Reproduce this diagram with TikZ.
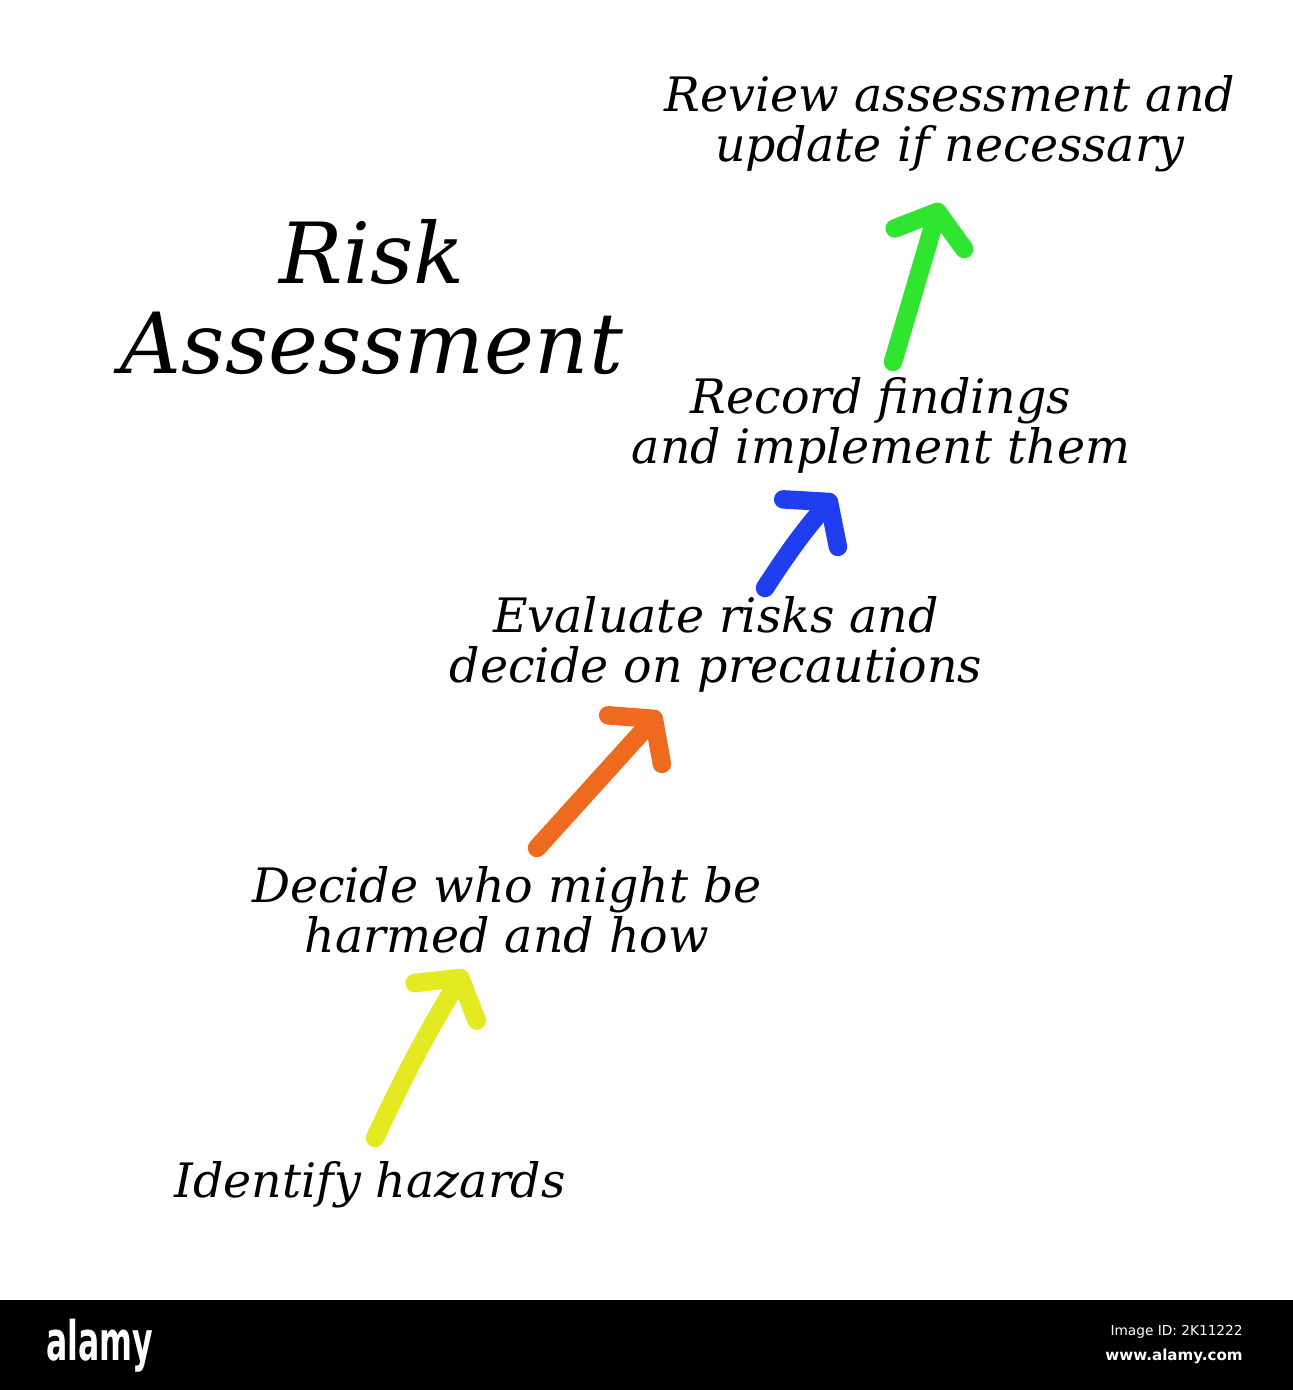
\documentclass[tikz,border=0pt]{standalone}
\usepackage{fontspec}
\setmainfont{DejaVu Serif}
\newfontfamily\wmfont{DejaVu Sans}
\usetikzlibrary{arrows.meta,positioning}
\definecolor{penyellow}{HTML}{E4EA22}
\definecolor{penorange}{HTML}{EE6A1E}
\definecolor{penblue}{HTML}{1E3EF0}
\definecolor{pengreen}{HTML}{30E530}

\begin{document}
\begin{tikzpicture}[
    x=0.02cm, y=-0.02cm,
    stepbox/.style={align=center, inner sep=0pt,
                 font=\fontsize{27}{28.5}\selectfont\itshape},
    ttl/.style={align=center, inner sep=0pt,
                font=\fontsize{48}{51}\selectfont\itshape},
    pen/.style={line width=0.37cm, line cap=round, line join=round,
                -{Straight Barb[length=0.56cm, width=1.45cm, line cap=round, line join=round]}}
  ]

  % ---- Canvas ----
  \useasboundingbox (0,0) rectangle (1293,1390);
  \fill[white] (0,0) rectangle (1293,1300);

  % ---- Title ----
  \node[ttl] (title) at (372,297) {Risk\\Assessment};

  % ---- Steps ----
  \node[stepbox] (haz)  at (370,1185) {Identify hazards};
  \node[stepbox] (harm) at (507,910)  {Decide who might be\\harmed and how};
  \node[stepbox] (eva)  at (716,644)  {Evaluate risks and\\decide on precautions};
  \node[stepbox] (rec)  at (881,425)  {Record findings\\and implement them};
  \node[stepbox] (rev)  at (950,124)  {Review assessment and\\update if necessary};

  % ---- Arrows ----
  \draw[pen, penyellow] ([shift={(5,-47)}]haz.center) to[bend left=3] ([shift={(-42,60)}]harm.center);
  \draw[pen, penorange] ([shift={(30,-62)}]harm.center) -- ([shift={(-56,68)}]eva.center);
  \draw[pen, penblue]   ([shift={(49,-56)}]eva.center) to[bend left=4] ([shift={(-46,70)}]rec.center);
  \draw[pen, pengreen]  ([shift={(12,-63)}]rec.center) -- ([shift={(-10,79)}]rev.center);

  % ---- Footer bar ----
  \fill[black] (0,1300) rectangle (1293,1390);
  \node[white, font=\wmfont\bfseries\fontsize{31}{31}\selectfont, inner sep=0pt] (logo) at (100,1346) {\scalebox{0.58}[1]{alamy}};
  \node[white, font=\wmfont\fontsize{7.8}{8}\selectfont, anchor=east, inner sep=0pt] (imgid) at (1243,1332) {Image ID: 2K11222};
  \node[white, font=\wmfont\bfseries\fontsize{8.6}{9}\selectfont, anchor=east, inner sep=0pt] (site) at (1243,1356) {www.alamy.com};

\end{tikzpicture}
\end{document}
